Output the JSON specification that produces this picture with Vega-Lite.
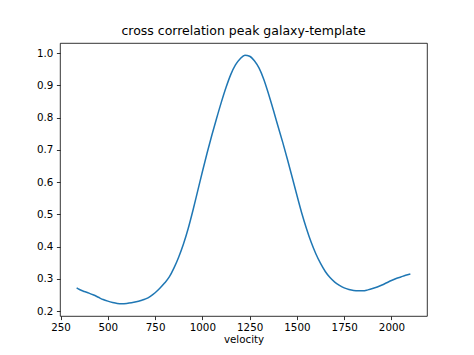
{
  "$schema": "https://vega.github.io/schema/vega-lite/v6.json",
  "width": 367,
  "height": 273,
  "autosize": {"type": "none"},
  "padding": {"left": 60, "top": 43, "right": 47, "bottom": 39},
  "background": "white",
  "title": {"text": "cross correlation peak galaxy-template", "font": "DejaVu Sans", "fontSize": 12.5, "fontWeight": "normal", "color": "#000000", "offset": 6, "anchor": "middle"},
  "config": {
    "view": {"stroke": "#000000", "strokeWidth": 0.8},
    "axis": {"grid": false, "domain": false, "tickColor": "#000000", "tickSize": 3.6, "tickWidth": 0.8, "labelFont": "DejaVu Sans", "labelFontSize": 10.3, "labelColor": "#000000", "titleFont": "DejaVu Sans", "titleFontSize": 10.3, "titleFontWeight": "normal", "titleColor": "#000000"}
  },
  "data": {"values": [
    {"velocity": 335, "peak": 0.272},
    {"velocity": 350, "peak": 0.267},
    {"velocity": 375, "peak": 0.261},
    {"velocity": 400, "peak": 0.256},
    {"velocity": 425, "peak": 0.250},
    {"velocity": 450, "peak": 0.243},
    {"velocity": 475, "peak": 0.236},
    {"velocity": 500, "peak": 0.231},
    {"velocity": 525, "peak": 0.227},
    {"velocity": 550, "peak": 0.224},
    {"velocity": 575, "peak": 0.223},
    {"velocity": 600, "peak": 0.224},
    {"velocity": 625, "peak": 0.226},
    {"velocity": 650, "peak": 0.229},
    {"velocity": 675, "peak": 0.233},
    {"velocity": 700, "peak": 0.238},
    {"velocity": 725, "peak": 0.246},
    {"velocity": 750, "peak": 0.257},
    {"velocity": 775, "peak": 0.271},
    {"velocity": 800, "peak": 0.287},
    {"velocity": 825, "peak": 0.306},
    {"velocity": 850, "peak": 0.334},
    {"velocity": 875, "peak": 0.368},
    {"velocity": 900, "peak": 0.408},
    {"velocity": 925, "peak": 0.456},
    {"velocity": 950, "peak": 0.512},
    {"velocity": 975, "peak": 0.572},
    {"velocity": 1000, "peak": 0.632},
    {"velocity": 1025, "peak": 0.690},
    {"velocity": 1050, "peak": 0.745},
    {"velocity": 1075, "peak": 0.797},
    {"velocity": 1100, "peak": 0.847},
    {"velocity": 1125, "peak": 0.893},
    {"velocity": 1150, "peak": 0.933},
    {"velocity": 1175, "peak": 0.963},
    {"velocity": 1200, "peak": 0.982},
    {"velocity": 1225, "peak": 0.993},
    {"velocity": 1250, "peak": 0.990},
    {"velocity": 1275, "peak": 0.976},
    {"velocity": 1300, "peak": 0.953},
    {"velocity": 1325, "peak": 0.918},
    {"velocity": 1350, "peak": 0.873},
    {"velocity": 1375, "peak": 0.824},
    {"velocity": 1400, "peak": 0.773},
    {"velocity": 1425, "peak": 0.723},
    {"velocity": 1450, "peak": 0.670},
    {"velocity": 1475, "peak": 0.615},
    {"velocity": 1500, "peak": 0.559},
    {"velocity": 1525, "peak": 0.505},
    {"velocity": 1550, "peak": 0.457},
    {"velocity": 1575, "peak": 0.414},
    {"velocity": 1600, "peak": 0.378},
    {"velocity": 1625, "peak": 0.348},
    {"velocity": 1650, "peak": 0.323},
    {"velocity": 1675, "peak": 0.304},
    {"velocity": 1700, "peak": 0.290},
    {"velocity": 1725, "peak": 0.280},
    {"velocity": 1750, "peak": 0.272},
    {"velocity": 1775, "peak": 0.267},
    {"velocity": 1800, "peak": 0.264},
    {"velocity": 1825, "peak": 0.263},
    {"velocity": 1850, "peak": 0.263},
    {"velocity": 1875, "peak": 0.266},
    {"velocity": 1900, "peak": 0.270},
    {"velocity": 1925, "peak": 0.275},
    {"velocity": 1950, "peak": 0.281},
    {"velocity": 1975, "peak": 0.288},
    {"velocity": 2000, "peak": 0.295},
    {"velocity": 2025, "peak": 0.301},
    {"velocity": 2050, "peak": 0.306},
    {"velocity": 2075, "peak": 0.311},
    {"velocity": 2100, "peak": 0.315}
  ]},
  "mark": {"type": "line", "color": "#1f77b4", "strokeWidth": 1.5, "interpolate": "monotone"},
  "encoding": {
    "x": {"field": "velocity", "type": "quantitative", "scale": {"domain": [247, 2188], "nice": false, "zero": false},
      "axis": {"values": [250, 500, 750, 1000, 1250, 1500, 1750, 2000], "format": "d", "labelPadding": 2.5, "title": "velocity", "titlePadding": 2, "labelFlush": false}},
    "y": {"field": "peak", "type": "quantitative", "scale": {"domain": [0.185, 1.031], "nice": false, "zero": false},
      "axis": {"values": [0.2, 0.3, 0.4, 0.5, 0.6, 0.7, 0.8, 0.9, 1.0], "format": ".1f", "labelPadding": 3.5, "title": null}}
  }
}
